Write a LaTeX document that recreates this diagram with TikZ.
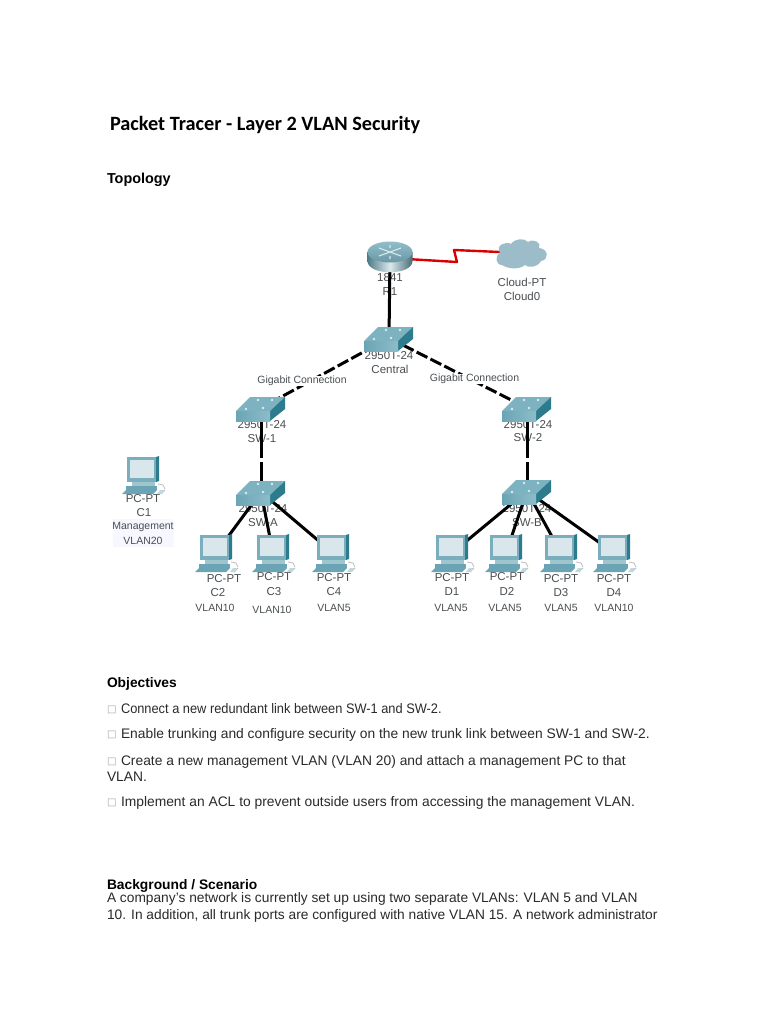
\documentclass[tikz,border=0pt]{standalone}
\usepackage{fontspec}
\setmainfont{Liberation Sans}
\newfontfamily\titlefont{Carlito}
\newfontfamily\boxfont{DejaVu Sans}
\definecolor{ink}{HTML}{2A2A2A}
\definecolor{lbl}{HTML}{4A4F52}
\definecolor{swfront}{HTML}{6BA5B5}
\definecolor{swfrontb}{HTML}{8DBCC9}
\definecolor{swtop}{HTML}{7DB2C1}
\definecolor{swside}{HTML}{2C7C8E}
\definecolor{scr}{HTML}{D9E6EC}
\definecolor{cloudc}{HTML}{9DBCC9}
\tikzset{
  every node/.style={inner sep=0pt,outer sep=0pt},
  anchorpt/.style={minimum size=1pt},
  title/.style={anchor=base west,font=\titlefont\bfseries\fontsize{20.3}{24}\selectfont,text=black},
  head/.style={anchor=base west,font=\bfseries\fontsize{13.8}{17}\selectfont,text=black},
  body/.style={anchor=base west,font=\fontsize{13.82}{17}\selectfont,text=ink},
  para/.style={anchor=base west,font=\fontsize{13.75}{17}\selectfont,text=ink},
  tick/.style={anchor=base west,font=\boxfont\fontsize{10}{12}\selectfont,text=gray!70},
  dev/.style={font=\fontsize{11.5}{13}\selectfont,text=lbl},
  vlan/.style={font=\fontsize{10.5}{12}\selectfont,text=lbl},
  gig/.style={font=\fontsize{10.5}{13}\selectfont,text=lbl,fill=white,inner xsep=1pt,inner ysep=0pt},
  wire/.style={line width=3pt,black},
  gigwire/.style={line width=3pt,black,dash pattern=on 12pt off 3.5pt},
  trunkwire/.style={line width=3pt,black,dash pattern=on 50pt off 4pt on 40pt off 0pt},
  serial/.style={line width=2.4pt,red!85!black,line join=round},
  switchicon/.pic={
    \fill[swtop] (-25,3) -- (-11,-11) -- (24,-11) -- (9,3) -- cycle;
    \fill[swside] (9,3) -- (24,-11) -- (24,1) -- (9,13) -- cycle;
    \shade[left color=swfront,right color=swfrontb] (-25,3) rectangle (9,13);
    \fill[white!75!swtop] (-15,1) circle (1.3) (-3,-8) circle (1.3) (11,-8) circle (1.3) (2,0) circle (1.3);
  },
  routericon/.pic={
    \shade[left color=swfront!75!black,right color=swfront!65!black,middle color=white!75!swfront]
      (-22.5,-6) -- (-22.5,3) .. controls (-22.5,18) and (22.5,18) .. (22.5,3) -- (22.5,-6) -- cycle;
    \shade[top color=swtop!85!white,bottom color=swtop!85!black] (0,-6) ellipse[x radius=22.5,y radius=10.5];
    \draw[white!70!swtop,line width=1.1pt] (-11,-2) -- (11,-10) (-11,-10) -- (11,-2) (0,-13) -- (0,-10) (0,1) -- (0,-2);
  },
  pcicon/.pic={
    \fill[swside] (13,-18) -- (16,-19) -- (16,6) -- (13,7) -- cycle;
    \fill[swfront!90!white] (-16,-18) rectangle (13,7);
    \fill[scr] (-13.5,-15) rectangle (10.5,3);
    \fill[swfront!65!white] (-11,7) rectangle (12,11);
    \fill[swfront] (-17,11) rectangle (14,15);
    \fill[swfront] (-17,15) -- (14,15) -- (10,19) -- (-21,19) -- cycle;
    \draw[black!25,line width=.8pt] (15,9) -- (20,10) -- (22,14) (18,19) -- (22,15);
    \fill[swtop!50!white] (14,19) -- (17,15) -- (21,15) -- (19,19) -- cycle;
  },
  cloudicon/.pic={
    \fill[cloudc]
      (-20,12) .. controls (-27,12) and (-27,2) .. (-22,0)
      .. controls (-27,-8) and (-16,-12) .. (-11,-9)
      .. controls (-7,-15) and (3,-15) .. (6,-11)
      .. controls (12,-15) and (20,-10) .. (17,-5)
      .. controls (27,-4) and (27,7) .. (19,8)
      .. controls (15,15) and (6,15) .. (3,12)
      .. controls (-3,17) and (-14,16) .. (-20,12) -- cycle;
  },
}
\begin{document}
\begin{tikzpicture}[x=1pt,y=-1pt]
\useasboundingbox (0,0) rectangle (768,1024);
\fill[white] (0,0) rectangle (768,1024);

% text
\node[title] (ttl) at (110,131) {Packet Tracer - Layer 2 VLAN Security};
\node[head,font=\bfseries\fontsize{14.4}{17}\selectfont] (htop) at (107,184) {Topology};
\node[head] (hobj) at (107,687) {Objectives};
\node[tick] (t1) at (107,712) {□};
\node[body,xscale=.927,transform shape] (o1) at (121,713) {Connect a new redundant link between SW-1 and SW-2.};
\node[tick] (t2) at (107,737) {□};
\node[body] (o2) at (121,738) {Enable trunking and configure security on the new trunk link between SW-1 and SW-2.};
\node[tick] (t3) at (107,764) {□};
\node[body] (o3) at (121,765) {Create a new management VLAN (VLAN 20) and attach a management PC to that};
\node[body] (o3b) at (107,781) {VLAN.};
\node[tick] (t4) at (107,805) {□};
\node[body] (o4) at (121,806) {Implement an ACL to prevent outside users from accessing the management VLAN.};
\node[head] (hbg) at (107,889) {Background / Scenario};
\node[para] (b1) at (107,902) {A company's network is currently set up using two separate VLANs: VLAN 5 and VLAN};
\node[para] (b2) at (107,919) {10. In addition, all trunk ports are configured with native VLAN 15. A network administrator};

% device positions
\node[anchorpt] (r1) at (390,258) {};
\node[anchorpt] (cloud) at (522,253) {};
\node[anchorpt] (central) at (389,338) {};
\node[anchorpt] (sw1) at (261,408) {};
\node[anchorpt] (sw2) at (527,408) {};
\node[anchorpt] (swa) at (261,492) {};
\node[anchorpt] (swb) at (527,491) {};
\node[anchorpt] (c1) at (143,475) {};
\node[anchorpt] (c2) at (216,553) {};
\node[anchorpt] (c3) at (273,553) {};
\node[anchorpt] (c4) at (333,553) {};
\node[anchorpt] (d1) at (452,553) {};
\node[anchorpt] (d2) at (506,553) {};
\node[anchorpt] (d3) at (561,553) {};
\node[anchorpt] (d4) at (614,553) {};
\coordinate (zig1) at (457,262);
\coordinate (zig2) at (454,250);

% device labels
\node[dev] (lr1a) at (390,278) {1841};
\node[dev] (lr1b) at (390,292) {R1};
\node[dev] (lcla) at (522,282) {Cloud-PT};
\node[dev] (lclb) at (522,296) {Cloud0};
\node[dev] (lcea) at (389,356) {2950T-24};
\node[dev] (lceb) at (390,369) {Central};
\node[dev] (ls1a) at (262,425) {2950T-24};
\node[dev] (ls1b) at (262,439) {SW-1};
\node[dev] (ls2a) at (528,425) {2950T-24};
\node[dev] (ls2b) at (528,438) {SW-2};
\node[dev] (lsaa) at (263,509) {2950T-24};
\node[dev] (lsab) at (263,523) {SW-A};
\node[dev] (lsba) at (527,509) {2950T-24};
\node[dev] (lsbb) at (527,523) {SW-B};
\fill[blue!3] (113,519) rectangle (174,547);
\node[dev] (lc1a) at (143,499) {PC-PT};
\node[dev] (lc1b) at (144,513) {C1};
\node[vlan] (lc1c) at (143,527) {Management};
\node[vlan] (lc1d) at (143,541) {VLAN20};
\node[dev] (lc2a) at (224,579) {PC-PT};
\node[dev] (lc2b) at (218,593) {C2};
\node[vlan] (lc2c) at (215,608) {VLAN10};
\node[dev] (lc3a) at (274,577) {PC-PT};
\node[dev] (lc3b) at (274,592) {C3};
\node[vlan] (lc3c) at (272,610) {VLAN10};
\node[dev] (lc4a) at (334,578) {PC-PT};
\node[dev] (lc4b) at (334,592) {C4};
\node[vlan] (lc4c) at (334,608) {VLAN5};
\node[dev] (ld1a) at (452,578) {PC-PT};
\node[dev] (ld1b) at (452,592) {D1};
\node[vlan] (ld1c) at (451,608) {VLAN5};
\node[dev] (ld2a) at (507,577) {PC-PT};
\node[dev] (ld2b) at (507,591) {D2};
\node[vlan] (ld2c) at (505,608) {VLAN5};
\node[dev] (ld3a) at (561,579) {PC-PT};
\node[dev] (ld3b) at (561,593) {D3};
\node[vlan] (ld3c) at (561,608) {VLAN5};
\node[dev] (ld4a) at (614,579) {PC-PT};
\node[dev] (ld4b) at (614,593) {D4};
\node[vlan] (ld4c) at (614,608) {VLAN10};

% connectors
\draw[serial] (r1.center) -- (zig1) -- (zig2) -- (cloud.center);
\draw[wire] (r1.center) -- (central.center);
\draw[gigwire] (central.center) -- (sw1.center);
\draw[gigwire] (central.center) -- (sw2.center);
\draw[trunkwire] (sw1.center) -- (swa.center);
\draw[trunkwire] (sw2.center) -- (swb.center);
\draw[wire] (swa.center) -- (c2.center);
\draw[wire] (swa.center) -- (c3.center);
\draw[wire] (swa.center) -- (c4.center);
\draw[wire] (swb.center) -- (d1.center);
\draw[wire] (swb.center) -- (d2.center);
\draw[wire] (swb.center) -- (d3.center);
\draw[wire] (swb.center) -- (d4.center);
\node[gig] (g1) at (302,381) {Gigabit Connection};
\node[gig] (g2) at (474.5,379) {Gigabit Connection};

% icons
\pic at (r1) {routericon};
\pic at (cloud) {cloudicon};
\pic at (central) {switchicon};
\pic at (sw1) {switchicon};
\pic at (sw2) {switchicon};
\pic at (swa) {switchicon};
\pic at (swb) {switchicon};
\pic at (c1) {pcicon};
\pic at (c2) {pcicon};
\pic at (c3) {pcicon};
\pic at (c4) {pcicon};
\pic at (d1) {pcicon};
\pic at (d2) {pcicon};
\pic at (d3) {pcicon};
\pic at (d4) {pcicon};
\end{tikzpicture}
\end{document}
